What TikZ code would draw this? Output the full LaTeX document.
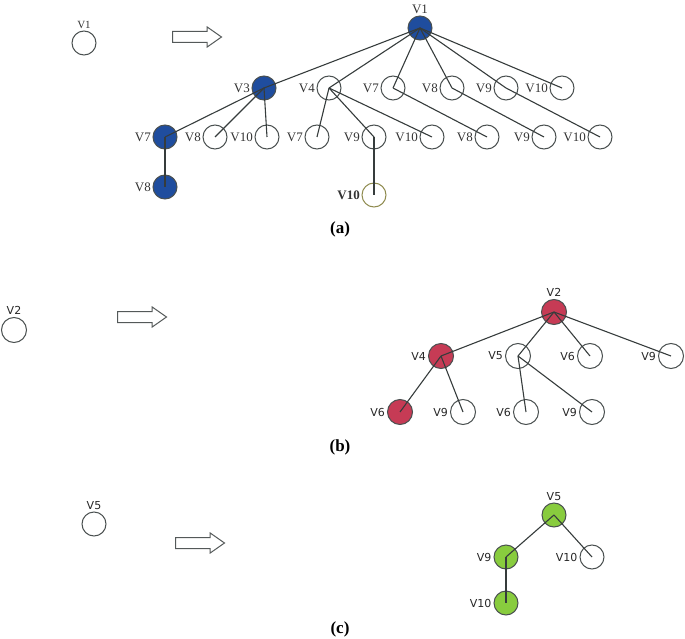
\documentclass[tikz,border=0pt]{standalone}
\usepackage{fontspec}
\setmainfont{Liberation Serif}
\newfontfamily\sansv{DejaVu Sans}
\usetikzlibrary{shapes,arrows,positioning}

\definecolor{vblue}{HTML}{1F4D9E}
\definecolor{vred}{HTML}{C63B55}
\definecolor{vgreen}{HTML}{88CC3E}
\definecolor{vline}{HTML}{363C3C}

\tikzset{
  vtx/.style={circle,draw=vline!90,line width=1pt,minimum size=24pt,inner sep=0pt},
  vtxb/.style={vtx,minimum size=25pt},
  lbl/.style={font=\fontsize{13}{13}\selectfont,inner sep=1.5pt,text=black!80},
  lbs/.style={font=\sansv\fontsize{11}{11}\selectfont,inner sep=2pt,text=black!85},
  edge/.style={draw=vline,line width=1.1pt},
  bigarrow/.style={single arrow,draw=vline!85,line width=1pt,minimum height=49pt,
    minimum width=19pt,single arrow head extend=4.5pt,single arrow tip angle=70,
    inner xsep=0pt,inner ysep=5pt,anchor=west},
  captxt/.style={font=\bfseries\fontsize{17}{17}\selectfont}
}

\begin{document}
\begin{tikzpicture}[x=1pt,y=-1pt]
\useasboundingbox (0,0) rectangle (685,639);
% (a)
\node[vtx,label={[lbl,font=\fontsize{11}{11}\selectfont]above:V1}] (s1) at (84,43) {};
\node[bigarrow] (ara) at (172,37) {};
\node[vtx,fill=vblue,label={[lbl]above:V1}] (a1) at (420,28) {};
\node[vtx,fill=vblue,label={[lbl]left:V3}] (a3) at (264,88) {};
\node[vtx,label={[lbl]left:V4}] (a4) at (329,88) {};
\node[vtx,label={[lbl]left:V7}] (a7) at (393,88) {};
\node[vtx,label={[lbl]left:V8}] (a8) at (452,88) {};
\node[vtx,label={[lbl]left:V9}] (a9) at (506,88) {};
\node[vtx,label={[lbl]left:V10}] (a10) at (562,88) {};
\node[vtx,fill=vblue,label={[lbl]left:V7}] (b7) at (165,137) {};
\node[vtx,label={[lbl]left:V8}] (b8) at (215,137) {};
\node[vtx,label={[lbl]left:V10}] (b10) at (267,137) {};
\node[vtx,label={[lbl]left:V7}] (c7) at (317,137) {};
\node[vtx,label={[lbl]left:V9}] (c9) at (374,137) {};
\node[vtx,label={[lbl]left:V10}] (c10) at (432,137) {};
\node[vtx,label={[lbl]left:V8}] (d8) at (487,137) {};
\node[vtx,label={[lbl]left:V9}] (e9) at (544,137) {};
\node[vtx,label={[lbl]left:V10}] (f10) at (600,137) {};
\node[vtx,fill=vblue,label={[lbl]left:V8}] (g8) at (165,187) {};
\node[vtx,draw=olive!45!gray,label={[lbl,font=\bfseries\fontsize{13}{13}\selectfont]left:V10}] (h10) at (374,195) {};
\foreach \x in {a3,a4,a7,a8,a9,a10}
  \draw[edge] (a1.center) -- (\x.center);
\foreach \x in {b7,b8,b10}
  \draw[edge] (a3.center) -- (\x.center);
\foreach \x in {c7,c9,c10}
  \draw[edge] (a4.center) -- (\x.center);
\draw[edge] (a7.center) -- (d8.center);
\draw[edge] (a8.center) -- (e9.center);
\draw[edge] (a9.center) -- (f10.center);
\draw[edge] (b7.center) -- (g8.center);
\draw[edge] (c9.center) -- (h10.center);
\node[captxt] (capa) at (340,229) {(a)};
% (b)
\node[vtxb,label={[lbs]above:V2}] (s2) at (14,330) {};
\node[bigarrow] (arb) at (117,317) {};
\node[vtxb,fill=vred,label={[lbs]above:V2}] (p2) at (554,312) {};
\node[vtxb,fill=vred,label={[lbs]left:V4}] (p4) at (441,356) {};
\node[vtxb,label={[lbs]left:V5}] (p5) at (518,356) {};
\node[vtxb,label={[lbs]left:V6}] (p6) at (590,356) {};
\node[vtxb,label={[lbs]left:V9}] (p9) at (671,356) {};
\node[vtxb,fill=vred,label={[lbs]left:V6}] (q6) at (400,412) {};
\node[vtxb,label={[lbs]left:V9}] (q9) at (463,412) {};
\node[vtxb,label={[lbs]left:V6}] (r6) at (526,412) {};
\node[vtxb,label={[lbs]left:V9}] (r9) at (592,412) {};
\foreach \x in {p4,p5,p6,p9}
  \draw[edge] (p2.center) -- (\x.center);
\draw[edge] (p4.center) -- (q6.center);
\draw[edge] (p4.center) -- (q9.center);
\draw[edge] (p5.center) -- (r6.center);
\draw[edge] (p5.center) -- (r9.center);
\node[captxt] (capb) at (340,447) {(b)};
% (c)
\node[vtx,label={[lbs]above:V5}] (s5) at (94,524) {};
\node[bigarrow] (arc) at (175,543) {};
\node[vtx,fill=vgreen,label={[lbs]above:V5}] (u5) at (554,515) {};
\node[vtx,fill=vgreen,label={[lbs]left:V9}] (u9) at (506,557) {};
\node[vtx,label={[lbs]left:V10}] (u10) at (592,557) {};
\node[vtx,fill=vgreen,label={[lbs]left:V10}] (w10) at (506,603) {};
\draw[edge] (u5.center) -- (u9.center);
\draw[edge] (u5.center) -- (u10.center);
\draw[edge] (u9.center) -- (w10.center);
\node[captxt] (capc) at (340,629) {(c)};
\end{tikzpicture}
\end{document}
